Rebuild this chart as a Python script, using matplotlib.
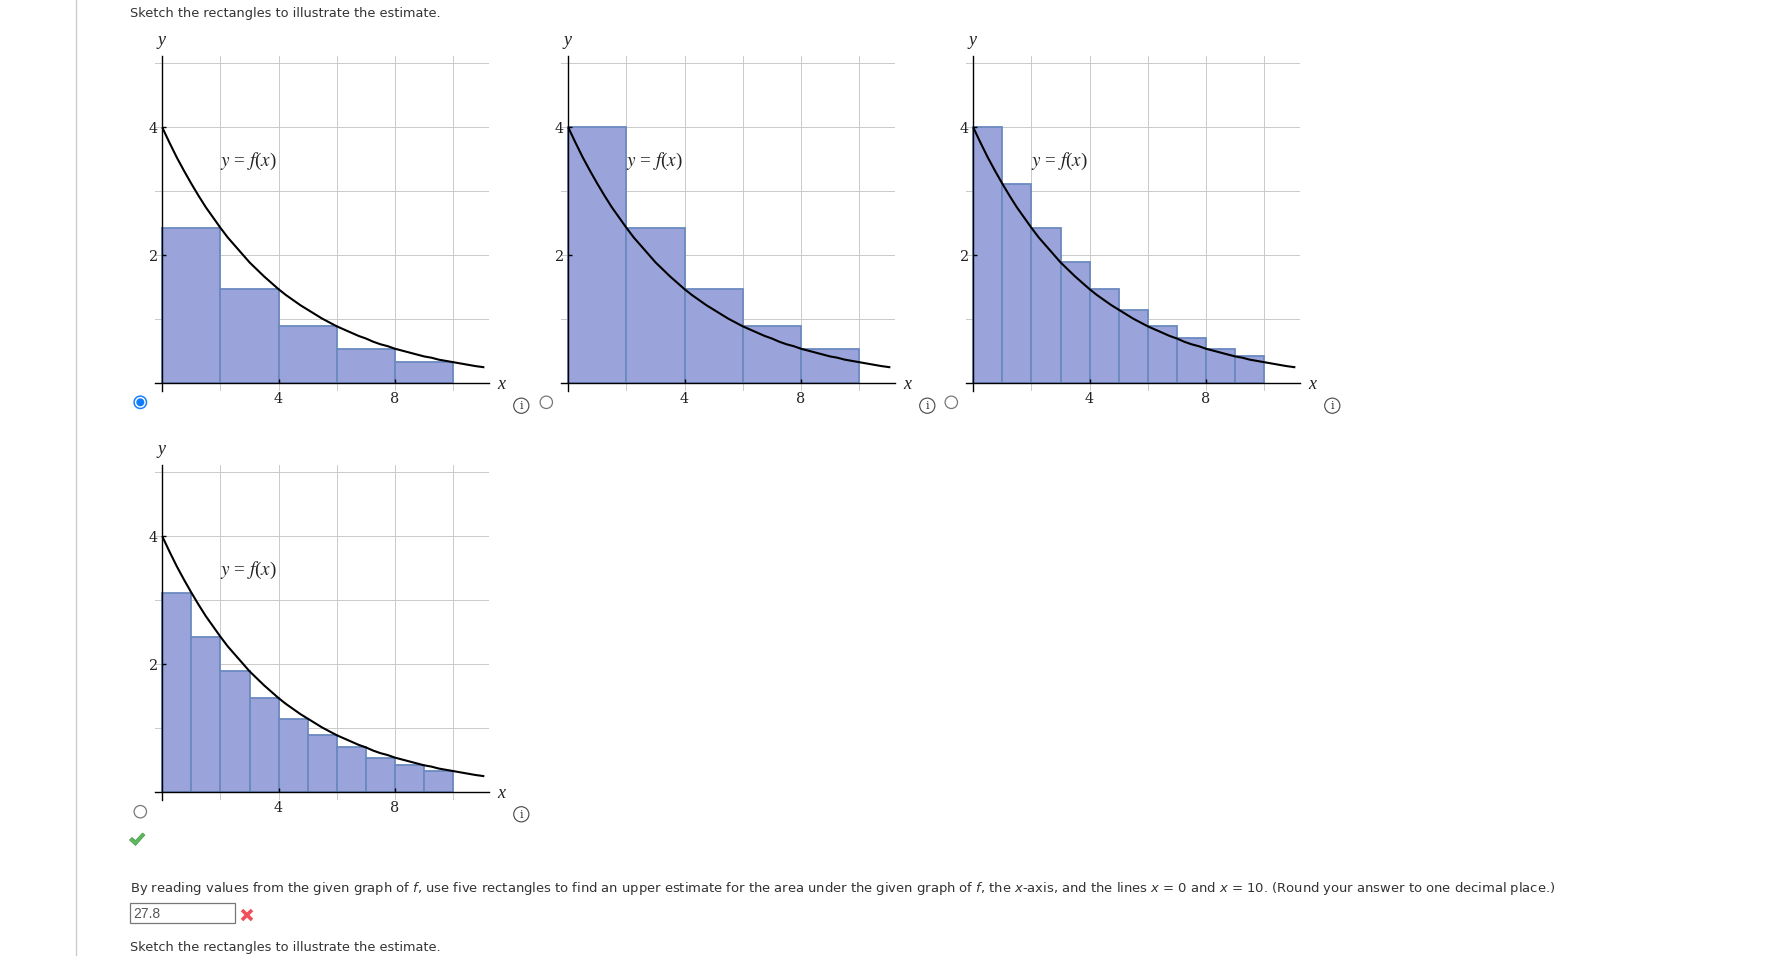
import matplotlib
matplotlib.use('Agg')
import matplotlib.pyplot as plt
from matplotlib.patches import Circle, Rectangle, Polygon

W, H = 1789, 956

# curve
curve_x = [0, 0.25, 0.5, 0.75, 1, 1.25, 1.5, 1.75, 2, 2.25, 2.5, 2.75, 3, 3.25, 3.5, 3.75, 4, 4.25, 4.5, 4.75,
           5, 5.25, 5.5, 5.75, 6, 6.25, 6.5, 6.75, 7, 7.25, 7.5, 7.75, 8, 8.25, 8.5, 8.75, 9, 9.25, 9.5, 9.75,
           10, 10.25, 10.5, 10.75, 11.07]
curve_y = [4, 3.76, 3.53, 3.32, 3.12, 2.93, 2.75, 2.59, 2.43, 2.28, 2.15, 2.02, 1.89, 1.78, 1.67, 1.57,
           1.47, 1.38, 1.30, 1.22, 1.15, 1.08, 1.01, 0.95, 0.89, 0.84, 0.79, 0.74, 0.70, 0.65, 0.61, 0.58,
           0.54, 0.51, 0.48, 0.45, 0.42, 0.40, 0.37, 0.35, 0.33, 0.31, 0.29, 0.27, 0.25]

# rectangles for each option
a_left = [0, 2, 4, 6, 8]
a_height = [2.43, 1.47, 0.89, 0.54, 0.33]
b_left = [0, 2, 4, 6, 8]
b_height = [4, 2.43, 1.47, 0.89, 0.54]
c_left = [0, 1, 2, 3, 4, 5, 6, 7, 8, 9]
c_height = [4, 3.12, 2.43, 1.89, 1.47, 1.15, 0.89, 0.70, 0.54, 0.42]
d_left = [0, 1, 2, 3, 4, 5, 6, 7, 8, 9]
d_height = [3.12, 2.43, 1.89, 1.47, 1.15, 0.89, 0.70, 0.54, 0.42, 0.33]

x_ticks = [4, 8]
y_ticks = [2, 4]
x_grid = [2, 4, 6, 8, 10]
y_grid = [1, 2, 3, 4, 5]

intro_text = 'Sketch the rectangles to illustrate the estimate.'
question_text = ('By reading values from the given graph of $f$, use five rectangles to find an upper estimate '
                 'for the area under the given graph of $f$, the $x$-axis, and the lines $x$ = 0 and $x$ = 10. '
                 '(Round your answer to one decimal place.)')
answer_text = '27.8'

GRID = '#cacaca'
FILL = '#9aa3da'
EDGE = '#6a8abf'
TEXT = '#333333'
SERIF = 'DejaVu Serif'
TIMES = 'Liberation Serif'

fig = plt.figure(figsize=(W / 100, H / 100), dpi=100, facecolor='white')

# page layer in pixel coordinates
page = fig.add_axes([0, 0, 1, 1])
page.set_xlim(0, W)
page.set_ylim(H, 0)
page.axis('off')


def radio(x, y, selected=False):
    if selected:
        page.add_patch(Circle((x, y), 6.2, fc='white', ec='#1a80ff', lw=1.1))
        page.add_patch(Circle((x, y), 4.0, fc='#0f7bff', ec='none'))
    else:
        page.add_patch(Circle((x, y), 6.2, fc='white', ec='#777777', lw=0.9))


def info(x, y):
    page.add_patch(Circle((x, y), 7.6, fc='white', ec='#444444', lw=0.8))
    page.text(x, y + 0.3, 'i', family=SERIF, fontsize=8, color='#333333', ha='center', va='center')


def panel(x0, y0, left, height, width):
    # x0, y0 = pixel position of the origin, 29.1 px per x unit, 64 px per y unit
    x_min, x_max = -0.25, 11.22
    y_min, y_max = -0.115, 5.11
    ax_l = x0 + x_min * 29.1
    ax_r = x0 + x_max * 29.1
    ax_b = y0 - y_min * 64
    ax_t = y0 - y_max * 64
    ax = fig.add_axes([ax_l / W, 1 - ax_b / H, (ax_r - ax_l) / W, (ax_b - ax_t) / H])
    ax.patch.set_alpha(0)
    ax.set_xlim(x_min, x_max)
    ax.set_ylim(y_min, y_max)
    for g in x_grid:
        ax.axvline(g, color=GRID, lw=0.7, zorder=0.5)
    for g in y_grid:
        ax.axhline(g, color=GRID, lw=0.7, zorder=0.5)
    ax.bar(left, height, width=width, align='edge', color=FILL, edgecolor=EDGE, linewidth=1.3, zorder=1)
    ax.plot(curve_x, curve_y, color='black', lw=1.5, zorder=2, solid_capstyle='butt')
    ax.spines['top'].set_visible(False)
    ax.spines['right'].set_visible(False)
    ax.spines['left'].set_position(('data', 0))
    ax.spines['bottom'].set_position(('data', 0))
    ax.spines['left'].set_linewidth(1.0)
    ax.spines['bottom'].set_linewidth(1.0)
    ax.set_xticks(x_ticks)
    ax.set_yticks(y_ticks)
    ax.tick_params(axis='x', direction='in', length=3, width=1, pad=6.5, labelsize=10.4, labelcolor='#222222')
    ax.tick_params(axis='y', direction='in', length=3, width=1, pad=3, labelsize=10.4, labelcolor='#222222')
    for lab in ax.get_xticklabels() + ax.get_yticklabels():
        lab.set_family(SERIF)
    ax.text(-0.02, 5.36, 'y', family=TIMES, style='italic', fontsize=13, color='#222222', ha='center', va='center')
    ax.text(11.65, -0.02, 'x', family=TIMES, style='italic', fontsize=13, color='#222222', ha='center', va='center')
    ax.text(2.0, 3.39, r'$y$ = $f$($x$)', family=TIMES, math_fontfamily='stix', fontsize=13.8, color='#222222',
            ha='left', va='baseline')
    return ax


panel(162.2, 383.3, a_left, a_height, 2)
panel(568.2, 383.3, b_left, b_height, 2)
panel(973.2, 383.3, c_left, c_height, 1)
panel(162.2, 792.2, d_left, d_height, 1)

# left page rule
page.plot([75.5, 75.5], [0, H], color='#cccccc', lw=1)

page.text(130, 17.3, intro_text, fontsize=9.3, color=TEXT, va='baseline')
page.text(130, 892.3, question_text, fontsize=9.45, color=TEXT, va='baseline')
page.text(130, 950.7, intro_text, fontsize=9.3, color=TEXT, va='baseline')

radio(140.3, 402.3, selected=True)
radio(546.3, 402.3)
radio(951.3, 402.3)
radio(140.3, 811.7)
info(521.3, 405.7)
info(927.3, 405.7)
info(1332.3, 405.7)
info(521.3, 814.3)

# green check
page.add_patch(Polygon([(129.5, 840), (132, 837.5), (135.5, 840.5), (142.5, 833), (145, 835), (135.5, 845.5)],
                       closed=True, fc='#5cb85c', ec='#4a9a4a', lw=0.5))

# answer box and red cross
page.add_patch(Rectangle((129.7, 903.3), 105, 20, fc='white', ec='#777777', lw=0.9))
page.text(133.2, 918, answer_text, family='Liberation Sans', fontsize=10, color='#555555', va='baseline')
page.plot([242, 252], [910, 920], color='#f0505a', lw=2.6, solid_capstyle='butt')
page.plot([242, 252], [920, 910], color='#f0505a', lw=2.6, solid_capstyle='butt')

fig.savefig('out.png', dpi=100)
